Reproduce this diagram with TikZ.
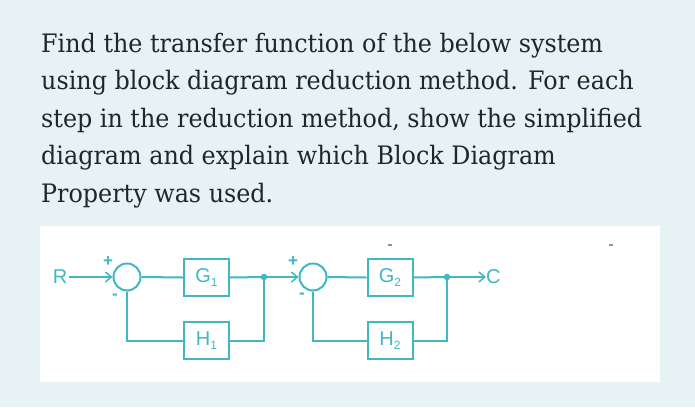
\documentclass[tikz,border=0pt]{standalone}
\usepackage{fontspec}
\usetikzlibrary{arrows.meta}
\newfontfamily\titlefont{DejaVu Serif}
\newfontfamily\dsans{Liberation Sans}
\definecolor{bgc}{HTML}{E7F2F4}
\definecolor{tl}{HTML}{3FB8C2}
\definecolor{txt}{HTML}{1E282C}
\definecolor{strayc}{HTML}{8A9597}
\newlength\lineW
\tikzset{
  blk/.style={draw=tl, line width=2pt, minimum width=45pt, minimum height=37pt,
    text=tl, font=\dsans\fontsize{20}{20}\selectfont, inner sep=0pt},
  sumc/.style={circle, draw=tl, line width=2pt, minimum size=27pt, inner sep=0pt},
  wire/.style={draw=tl, line width=2pt},
  arr/.style={wire, -{Straight Barb[length=6pt,width=10pt,line width=1.5pt]}},
  junc/.style={circle, fill=tl, inner sep=0pt, minimum size=6.5pt},
  lbl/.style={text=tl, font=\dsans\fontsize{20}{20}\selectfont, inner sep=0pt},
  sgn/.style={text=tl, font=\dsans\bfseries\fontsize{17}{17}\selectfont, inner sep=0pt},
  tline/.style={anchor=base west, inner sep=0pt, text=txt},
  stray/.style={draw=strayc, line width=1.3pt}
}
\newcommand\myttl[1]{\scalebox{\tsx}[1]{\titlefont\fontsize{25.4}{30}\selectfont #1}}
\newcommand\subs[1]{\raisebox{-0.45ex}{\fontsize{12}{12}\selectfont #1}}
\begin{document}
\settowidth\lineW{\titlefont\fontsize{25.4}{30}\selectfont step in the reduction method, show the simplified}%
\pgfmathsetmacro\tsx{601/\the\lineW}%
\begin{tikzpicture}[x=1pt,y=-1pt]
\fill[bgc] (0,0) rectangle (695,407);
\useasboundingbox (0,0) rectangle (695,407);
\fill[white] (40,226) rectangle (660,382);
% title text
\node[tline] (l1) at (41,52) {\myttl{Find the transfer function of the below system}};
\node[tline] (l2) at (41,89.5) {\myttl{using block diagram reduction method. For each}};
\node[tline] (l3) at (41,127) {\myttl{step in the reduction method, show the simplified}};
\node[tline] (l4) at (41,164.5) {\myttl{diagram and explain which Block Diagram}};
\node[tline] (l5) at (41,202) {\myttl{Property was used.}};
% diagram
\node[lbl] (R) at (60,277) {R};
\node[sumc] (s1) at (127,277) {};
\node[blk] (G1) at (206.5,277.5) {G\subs{1}};
\node[blk] (H1) at (206.5,340.5) {H\subs{1}};
\node[junc] (b1) at (264,277) {};
\node[sumc] (s2) at (313,277) {};
\node[blk] (G2) at (390,277.5) {G\subs{2}};
\node[blk] (H2) at (390,340.5) {H\subs{2}};
\node[junc] (b2) at (447,277) {};
\node[lbl, anchor=west] (C) at (486,277) {C};
\node[sgn] (p1) at (108,262) {+};
\node[sgn] (m1) at (115,297) {-};
\node[sgn] (p2) at (293,262) {+};
\node[sgn] (m2) at (302,296) {-};
\draw[arr] (R.east) ++(2,0) coordinate (r0) -- (s1.west);
\draw[wire] (s1.east) -- (G1.west);
\draw[wire] (G1.east) -- (b1.center);
\draw[arr] (b1.center) -- (s2.west);
\draw[wire] (b1.center) |- (H1.east);
\draw[wire] (H1.west) -| (s1.south);
\draw[wire] (s2.east) -- (G2.west);
\draw[wire] (G2.east) -- (b2.center);
\draw[arr] (b2.center) -- (C.west);
\draw[wire] (b2.center) |- (H2.east);
\draw[wire] (H2.west) -| (s2.south);
% stray marks
\coordinate (d1) at (388,245);
\coordinate (d2) at (609,245);
\draw[stray] (d1) -- ++(4,0);
\draw[stray] (d2) -- ++(4,0);
\end{tikzpicture}
\end{document}
